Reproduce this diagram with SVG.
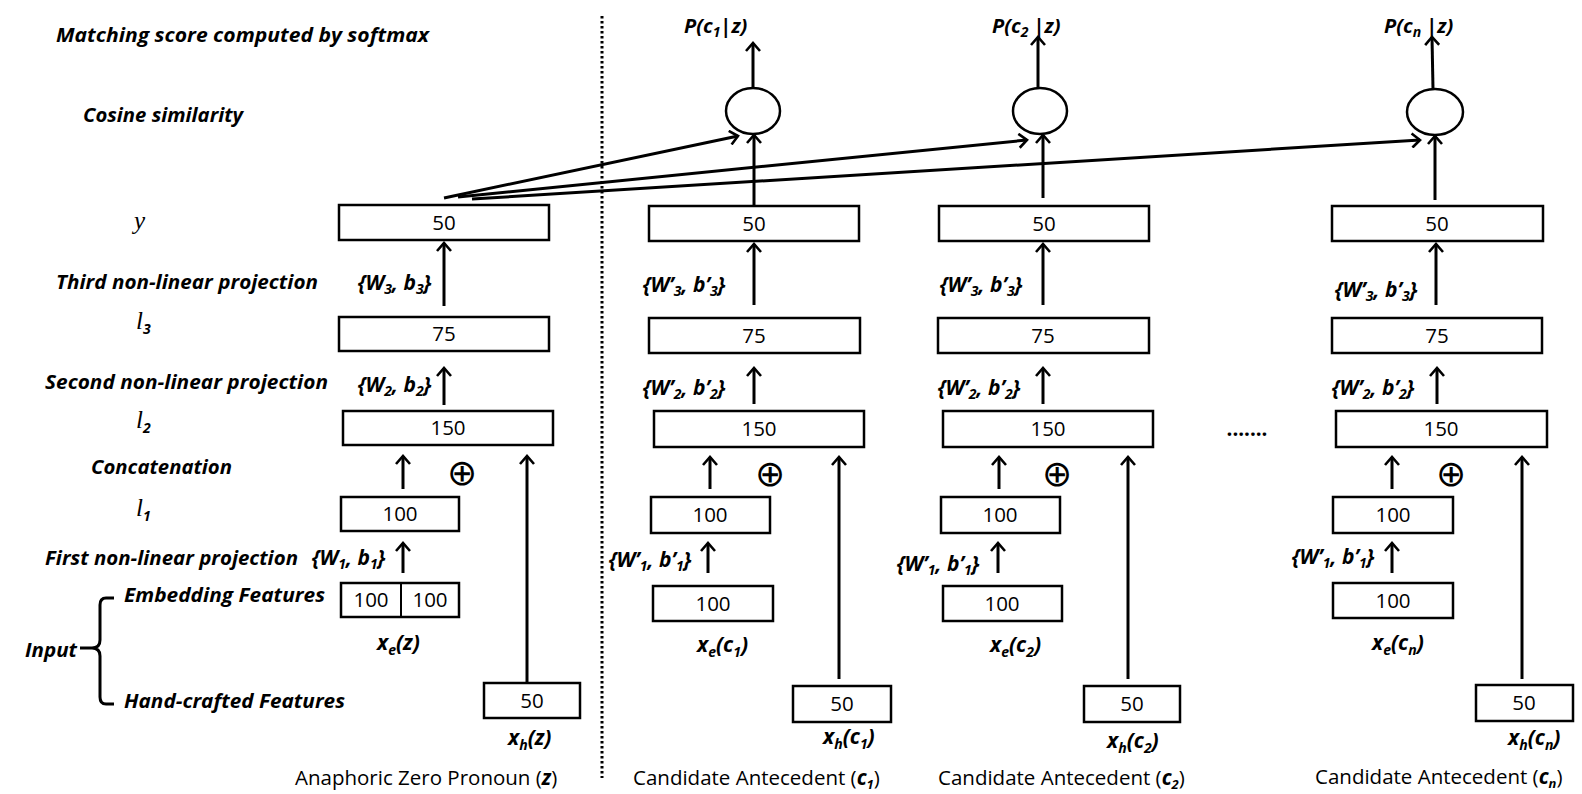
<svg xmlns="http://www.w3.org/2000/svg" width="1582" height="794" viewBox="0 0 1582 794">
<style>
.box{fill:#fff;stroke:#000;stroke-width:2.5}
.lbl{font-family:"Open Sans","Liberation Sans",sans-serif;font-weight:bold;font-style:italic;font-size:20px;fill:#000}
.w{font-size:21px}
.s{font-size:14px}
.num{font-family:"Open Sans","Liberation Sans",sans-serif;font-size:20.5px;text-anchor:middle;fill:#000}
.cap{font-family:"Open Sans","Liberation Sans",sans-serif;font-size:20.5px;fill:#000}
.capi{font-weight:bold;font-style:italic}
.caps{font-weight:bold;font-style:italic;font-size:13px}
.ser{font-family:"Liberation Serif","Times New Roman",serif;font-style:italic;font-size:25px;fill:#000}
.lsub{font-family:"Open Sans","Liberation Sans",sans-serif;font-style:italic;font-weight:bold;font-size:14px}
.oplus{font-family:"DejaVu Sans",sans-serif;font-size:36px;text-anchor:middle;fill:#000}
.conn line{stroke:#000;stroke-width:3;marker-end:url(#ah)}
.circ{fill:#fff;stroke:#000;stroke-width:2.5}
</style>
<defs>
<marker id="ah" viewBox="-10 -8 12 16" refX="0" refY="0" markerWidth="12" markerHeight="16" orient="auto" markerUnits="userSpaceOnUse">
<path d="M-8,-7 L0,0 L-8,7" fill="none" stroke="#000" stroke-width="2.6"/>
</marker>
</defs>
<rect width="1582" height="794" fill="#fff"/>

<g id="left-labels">
<text class="lbl" x="56" y="42" textLength="373" lengthAdjust="spacingAndGlyphs">Matching score computed by softmax</text>
<text class="lbl" x="83" y="122" textLength="160" lengthAdjust="spacingAndGlyphs">Cosine similarity</text>
<text class="ser" x="134" y="229">y</text>
<text class="lbl" x="56" y="289" textLength="262" lengthAdjust="spacingAndGlyphs">Third non-linear projection</text>
<text class="ser" x="136" y="329">l<tspan class="lsub" dy="5">3</tspan></text>
<text class="lbl" x="45" y="389" textLength="283" lengthAdjust="spacingAndGlyphs">Second non-linear projection</text>
<text class="ser" x="136" y="428">l<tspan class="lsub" dy="5">2</tspan></text>
<text class="lbl" x="91" y="474" textLength="141" lengthAdjust="spacingAndGlyphs">Concatenation</text>
<text class="ser" x="136" y="516">l<tspan class="lsub" dy="5">1</tspan></text>
<text class="lbl" x="45" y="565" textLength="253" lengthAdjust="spacingAndGlyphs">First non-linear projection</text>
<text class="lbl" x="124" y="602" textLength="201" lengthAdjust="spacingAndGlyphs">Embedding Features</text>
<text class="lbl" x="25" y="657" textLength="52" lengthAdjust="spacingAndGlyphs">Input</text>
<text class="lbl" x="124" y="708" textLength="221" lengthAdjust="spacingAndGlyphs">Hand-crafted Features</text>
<path d="M114,598 L106,598 Q100,598 100,605 L100,640 Q100,648 92,648 L80,648 M92,648 Q100,648 100,656 L100,697 Q100,704 106,704 L114,704" fill="none" stroke="#000" stroke-width="3"/>
<line x1="602" y1="16" x2="602" y2="778" stroke="#000" stroke-width="3" stroke-dasharray="2.5,2.5"/>
<text class="num" x="1247" y="436" font-weight="bold">.......</text>
</g>

<g id="col-z">
<rect class="box" x="339" y="205" width="210" height="35"/><text class="num" x="444" y="230">50</text>
<rect class="box" x="339" y="317" width="210" height="34"/><text class="num" x="444" y="341">75</text>
<rect class="box" x="343" y="411" width="210" height="34"/><text class="num" x="448" y="435">150</text>
<rect class="box" x="341" y="497" width="118" height="34"/><text class="num" x="400" y="521">100</text>
<rect class="box" x="341" y="583" width="118" height="34"/><line x1="401" y1="583" x2="401" y2="617" stroke="#000" stroke-width="2"/>
<text class="num" x="371" y="607">100</text><text class="num" x="430" y="607">100</text>
<rect class="box" x="484" y="683" width="96" height="35"/><text class="num" x="532" y="708">50</text>
<text class="lbl w" x="358" y="290">{W<tspan class="s" dy="4">3</tspan><tspan dy="-4">, b</tspan><tspan class="s" dy="4">3</tspan><tspan dy="-4">}</tspan></text>
<text class="lbl w" x="358" y="392">{W<tspan class="s" dy="4">2</tspan><tspan dy="-4">, b</tspan><tspan class="s" dy="4">2</tspan><tspan dy="-4">}</tspan></text>
<text class="lbl w" x="312" y="565">{W<tspan class="s" dy="4">1</tspan><tspan dy="-4">, b</tspan><tspan class="s" dy="4">1</tspan><tspan dy="-4">}</tspan></text>
<text class="oplus" x="462" y="485">⊕</text>
<text class="lbl w" x="377" y="650">x<tspan class="s" dy="5">e</tspan><tspan dy="-5">(z)</tspan></text>
<text class="lbl w" x="508" y="745">x<tspan class="s" dy="5">h</tspan><tspan dy="-5">(z)</tspan></text>
<text class="cap" x="295" y="785">Anaphoric Zero Pronoun (<tspan class="capi">z</tspan>)</text>
</g>

<g id="col-c1">
<ellipse class="circ" cx="753" cy="111" rx="27" ry="23"/>
<rect class="box" x="649" y="206" width="210" height="35"/><text class="num" x="754" y="231">50</text>
<rect class="box" x="649" y="318" width="211" height="35"/><text class="num" x="754" y="343">75</text>
<rect class="box" x="654" y="411" width="210" height="36"/><text class="num" x="759" y="436">150</text>
<rect class="box" x="651" y="497" width="119" height="36"/><text class="num" x="710" y="522">100</text>
<rect class="box" x="653" y="586" width="120" height="35"/><text class="num" x="713" y="611">100</text>
<rect class="box" x="793" y="686" width="98" height="36"/><text class="num" x="842" y="711">50</text>
<text class="lbl" x="684" y="33">P(c<tspan class="s" dy="4">1</tspan><tspan dy="-4">|z)</tspan></text>
<text class="lbl w" x="643" y="292">{W’<tspan class="s" dy="4">3</tspan><tspan dy="-4">, b’</tspan><tspan class="s" dy="4">3</tspan><tspan dy="-4">}</tspan></text>
<text class="lbl w" x="643" y="395">{W’<tspan class="s" dy="4">2</tspan><tspan dy="-4">, b’</tspan><tspan class="s" dy="4">2</tspan><tspan dy="-4">}</tspan></text>
<text class="lbl w" x="609" y="567">{W’<tspan class="s" dy="4">1</tspan><tspan dy="-4">, b’</tspan><tspan class="s" dy="4">1</tspan><tspan dy="-4">}</tspan></text>
<text class="oplus" x="770" y="486">⊕</text>
<text class="lbl w" x="697" y="652">x<tspan class="s" dy="5">e</tspan><tspan dy="-5">(c</tspan><tspan class="s" dy="5">1</tspan><tspan dy="-5">)</tspan></text>
<text class="lbl w" x="823" y="744">x<tspan class="s" dy="5">h</tspan><tspan dy="-5">(c</tspan><tspan class="s" dy="5">1</tspan><tspan dy="-5">)</tspan></text>
<text class="cap" x="633" y="785">Candidate Antecedent (<tspan class="capi">c</tspan><tspan class="caps" dy="4">1</tspan><tspan dy="-4">)</tspan></text>
</g>

<g id="col-c2">
<ellipse class="circ" cx="1040" cy="111" rx="27" ry="23"/>
<rect class="box" x="939" y="206" width="210" height="35"/><text class="num" x="1044" y="231">50</text>
<rect class="box" x="938" y="318" width="211" height="35"/><text class="num" x="1043" y="343">75</text>
<rect class="box" x="943" y="411" width="210" height="36"/><text class="num" x="1048" y="436">150</text>
<rect class="box" x="941" y="497" width="119" height="36"/><text class="num" x="1000" y="522">100</text>
<rect class="box" x="943" y="586" width="119" height="35"/><text class="num" x="1002" y="611">100</text>
<rect class="box" x="1084" y="686" width="96" height="36"/><text class="num" x="1132" y="711">50</text>
<text class="lbl" x="992" y="33">P(c<tspan class="s" dy="4">2</tspan><tspan dy="-4"> |z)</tspan></text>
<text class="lbl w" x="940" y="292">{W’<tspan class="s" dy="4">3</tspan><tspan dy="-4">, b’</tspan><tspan class="s" dy="4">3</tspan><tspan dy="-4">}</tspan></text>
<text class="lbl w" x="938" y="395">{W’<tspan class="s" dy="4">2</tspan><tspan dy="-4">, b’</tspan><tspan class="s" dy="4">2</tspan><tspan dy="-4">}</tspan></text>
<text class="lbl w" x="897" y="571">{W’<tspan class="s" dy="4">1</tspan><tspan dy="-4">, b’</tspan><tspan class="s" dy="4">1</tspan><tspan dy="-4">}</tspan></text>
<text class="oplus" x="1057" y="486">⊕</text>
<text class="lbl w" x="990" y="652">x<tspan class="s" dy="5">e</tspan><tspan dy="-5">(c</tspan><tspan class="s" dy="5">2</tspan><tspan dy="-5">)</tspan></text>
<text class="lbl w" x="1107" y="748">x<tspan class="s" dy="5">h</tspan><tspan dy="-5">(c</tspan><tspan class="s" dy="5">2</tspan><tspan dy="-5">)</tspan></text>
<text class="cap" x="938" y="785">Candidate Antecedent (<tspan class="capi">c</tspan><tspan class="caps" dy="4">2</tspan><tspan dy="-4">)</tspan></text>
</g>

<g id="col-cn">
<ellipse class="circ" cx="1435" cy="112" rx="28" ry="23"/>
<rect class="box" x="1332" y="206" width="211" height="35"/><text class="num" x="1437" y="231">50</text>
<rect class="box" x="1332" y="318" width="210" height="35"/><text class="num" x="1437" y="343">75</text>
<rect class="box" x="1336" y="411" width="211" height="36"/><text class="num" x="1441" y="436">150</text>
<rect class="box" x="1333" y="497" width="120" height="36"/><text class="num" x="1393" y="522">100</text>
<rect class="box" x="1333" y="583" width="120" height="35"/><text class="num" x="1393" y="608">100</text>
<rect class="box" x="1476" y="685" width="97" height="36"/><text class="num" x="1524" y="710">50</text>
<text class="lbl" x="1384" y="33">P(c<tspan class="s" dy="4">n</tspan><tspan dy="-4"> |z)</tspan></text>
<text class="lbl w" x="1335" y="297">{W’<tspan class="s" dy="4">3</tspan><tspan dy="-4">, b’</tspan><tspan class="s" dy="4">3</tspan><tspan dy="-4">}</tspan></text>
<text class="lbl w" x="1332" y="395">{W’<tspan class="s" dy="4">2</tspan><tspan dy="-4">, b’</tspan><tspan class="s" dy="4">2</tspan><tspan dy="-4">}</tspan></text>
<text class="lbl w" x="1292" y="564">{W’<tspan class="s" dy="4">1</tspan><tspan dy="-4">, b’</tspan><tspan class="s" dy="4">1</tspan><tspan dy="-4">}</tspan></text>
<text class="oplus" x="1451" y="486">⊕</text>
<text class="lbl w" x="1372" y="650">x<tspan class="s" dy="5">e</tspan><tspan dy="-5">(c</tspan><tspan class="s" dy="5">n</tspan><tspan dy="-5">)</tspan></text>
<text class="lbl w" x="1508" y="745">x<tspan class="s" dy="5">h</tspan><tspan dy="-5">(c</tspan><tspan class="s" dy="5">n</tspan><tspan dy="-5">)</tspan></text>
<text class="cap" x="1315" y="784">Candidate Antecedent (<tspan class="capi">c</tspan><tspan class="caps" dy="4">n</tspan><tspan dy="-4">)</tspan></text>
</g>

<g id="connectors" class="conn">
<line x1="444" y1="198" x2="738" y2="136"/>
<line x1="458" y1="197" x2="1027" y2="140"/>
<line x1="472" y1="199" x2="1420" y2="140"/>
<line x1="444" y1="306" x2="444" y2="243"/>
<line x1="444" y1="405" x2="444" y2="368"/>
<line x1="403" y1="489" x2="403" y2="456"/>
<line x1="527" y1="683" x2="527" y2="456"/>
<line x1="403" y1="573" x2="403" y2="543"/>
<line x1="753" y1="88" x2="753" y2="43"/>
<line x1="754" y1="205" x2="754" y2="135"/>
<line x1="754" y1="305" x2="754" y2="244"/>
<line x1="754" y1="404" x2="754" y2="368"/>
<line x1="710" y1="489" x2="710" y2="457"/>
<line x1="839" y1="679" x2="839" y2="457"/>
<line x1="708" y1="573" x2="708" y2="543"/>
<line x1="1038" y1="88" x2="1038" y2="37"/>
<line x1="1043" y1="198" x2="1043" y2="135"/>
<line x1="1043" y1="305" x2="1043" y2="244"/>
<line x1="1043" y1="404" x2="1043" y2="368"/>
<line x1="999" y1="489" x2="999" y2="457"/>
<line x1="1128" y1="679" x2="1128" y2="457"/>
<line x1="998" y1="573" x2="998" y2="543"/>
<line x1="1433" y1="89" x2="1432" y2="37"/>
<line x1="1435" y1="200" x2="1435" y2="136"/>
<line x1="1436" y1="305" x2="1436" y2="244"/>
<line x1="1437" y1="404" x2="1437" y2="368"/>
<line x1="1392" y1="489" x2="1392" y2="457"/>
<line x1="1522" y1="679" x2="1522" y2="457"/>
<line x1="1392" y1="573" x2="1392" y2="543"/>
</g>
</svg>
